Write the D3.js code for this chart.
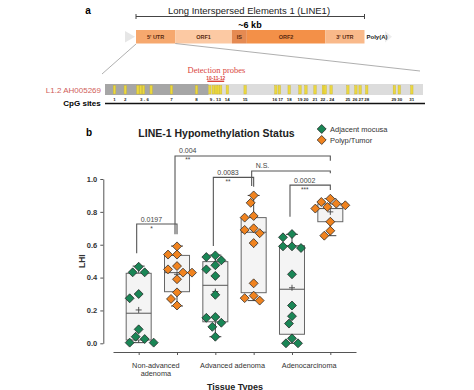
<!DOCTYPE html>
<html>
<head>
<meta charset="utf-8">
<script src="https://cdn.jsdelivr.net/npm/d3@7"></script>
<style>
  body { margin: 0; background: #fff; }
  svg { display: block; font-family: "Liberation Sans", Arial, sans-serif; }
</style>
</head>
<body>
<div id="chart"></div>
<script>
// ---- panel a data ----
var segNames = ["5' UTR", "ORF1", "IS", "ORF2", "3' UTR"];
var segKb = [1.03, 1.49, 0.39, 2.06, 1.03];
var segColors = ["#f6a86e", "#fcc9a3", "#e58a52", "#f39048", "#f9b98a"];

// CpG positions along the 5'UTR (bp)
var cpgPos = [27, 58, 94, 102, 110, 132, 190, 262, 300, 310, 318, 324, 331, 350, 401,
              489, 499, 527, 558, 575, 601, 625, 630, 647, 695, 718, 730, 749, 828, 842, 878];
var cpgLabels = [["1",0,0],["2",1,1],["3 - 6",2,5],["7",6,6],["8",7,7],["9 - 13",8,12],["14",13,13],
                 ["15",14,14],["16",15,15],["17",16,16],["18",17,17],["19",18,18],["20",19,19],
                 ["21",20,20],["22 - 24",21,23],["25",24,24],["26",25,25],["27",26,26],["28",27,27],
                 ["29",28,28],["30",29,29],["31",30,30]];
var probeSites = [9, 11];

// ---- panel b data ----
var tissueTypes = ["Non-advanced adenoma", "Advanced adenoma", "Adenocarcinoma"];
var sampleTypes = ["Adjacent mocusa", "Polyp/Tumor"];

var nonAdvAdjacent = [0.466, 0.432, 0.432, 0.30, 0.274, 0.085, 0.04, 0.026, 0.004, 0.004];
var nonAdvTumor = [0.59, 0.54, 0.54, 0.47, 0.45, 0.43, 0.43, 0.39, 0.31, 0.27, 0.23];
var advAdjacent = [0.535, 0.525, 0.505, 0.475, 0.45, 0.41, 0.295, 0.16, 0.155, 0.125, 0.10, 0.04];
var advTumor = [0.90, 0.855, 0.775, 0.765, 0.70, 0.69, 0.67, 0.61, 0.365, 0.29, 0.275, 0.26];
var carcAdjacent = [0.665, 0.645, 0.59, 0.58, 0.59, 0.42, 0.23, 0.165, 0.12, 0.03, 0.0, 0.0];
var carcTumor = [0.88, 0.86, 0.85, 0.84, 0.83, 0.82, 0.82, 0.81, 0.74, 0.685, 0.655];

var boxMin    = [0.004, 0.227, 0.04, 0.26, 0.0, 0.655];
var boxQ1     = [0.02, 0.314, 0.131, 0.308, 0.055, 0.74];
var boxMedian = [0.183, 0.43, 0.353, 0.676, 0.329, 0.82];
var boxQ3     = [0.426, 0.535, 0.497, 0.765, 0.594, 0.848];
var boxMax    = [0.47, 0.592, 0.537, 0.90, 0.663, 0.88];
var boxMean   = [0.203, 0.42, 0.315, 0.60, 0.338, 0.80];

var yTicks = [0, 0.2, 0.4, 0.6, 0.8, 1.0];

// pairwise comparisons
var compP     = ["0.0197", "0.004", "0.0083", "N.S.", "0.0002"];
var compStars = ["*", "**", "**", "", "***"];
var compFrom  = [0, 1, 2, 3, 4];
var compTo    = [1, 5, 3, 5, 5];
var compLevel = [0.726, 1.14, 1.01, 1.049, 0.963];
var compLeftEnd  = [0.548, 0.663, 0.592, 0.957, 0.77];
var compRightEnd = [0.663, 1.111, 0.953, 1.035, 0.933];

var colors = ["#1a8656", "#f0831f"];

var W = 474, H = 390;
var svg = d3.select("#chart").append("svg").attr("width", W).attr("height", H);

// ================= panel a =================
var pa = svg.append("g");
pa.append("text").attr("x", 88).attr("y", 14).attr("font-size", 10).attr("font-weight", "bold")
    .attr("text-anchor", "middle").text("a");

var kb = d3.scaleLinear().domain([0, d3.sum(segKb)]).range([136, 364.5]);

pa.append("text").attr("x", 249).attr("y", 13.5).attr("text-anchor", "middle")
    .attr("font-size", 9.5).attr("fill", "#222").text("Long Interspersed Elements 1 (LINE1)");
pa.append("line").attr("x1", kb(0)).attr("x2", kb.range()[1]).attr("y1", 16.5).attr("y2", 16.5)
    .attr("stroke", "#444").attr("stroke-width", 1);
[kb(0), kb.range()[1]].forEach(function(x) {
    pa.append("line").attr("x1", x).attr("x2", x).attr("y1", 14).attr("y2", 19)
        .attr("stroke", "#444");
});
pa.append("text").attr("x", 250).attr("y", 27.5).attr("text-anchor", "middle")
    .attr("font-size", 9).attr("font-weight", "bold").text("~6 kb");

// faded arrowheads
pa.append("path").attr("d", "M125,31 L135,36.7 L125,42.5 Z").attr("fill", "#e6e6e6");
pa.append("path").attr("d", "M385,31 L392,36.7 L385,42.5 Z").attr("fill", "#ececec");

var cum = 0;
segKb.forEach(function(v, i) {
    var x0 = kb(cum), x1 = kb(cum + v);
    pa.append("rect").attr("x", x0).attr("y", 30).attr("width", x1 - x0).attr("height", 13.5)
        .attr("fill", segColors[i]);
    pa.append("text").attr("x", (x0 + x1) / 2).attr("y", 39).attr("text-anchor", "middle")
        .attr("font-size", 5.5).attr("font-weight", "bold").attr("fill", "#5a2a10").text(segNames[i]);
    cum += v;
});
pa.append("text").attr("x", 366.5).attr("y", 39).attr("font-size", 6).attr("font-weight", "bold")
    .attr("fill", "#222").text("Poly(A)");

// zoom lines
pa.append("line").attr("x1", kb(0)).attr("y1", 44).attr("x2", 102).attr("y2", 74)
    .attr("stroke", "#9a9a9a").attr("stroke-width", 0.8);
pa.append("line").attr("x1", kb(segKb[0])).attr("y1", 43.5).attr("x2", 420).attr("y2", 71)
    .attr("stroke", "#9a9a9a").attr("stroke-width", 0.8);

// 5'UTR CpG map
var bp = d3.scaleLinear().domain([0, 910]).range([105, 423]);
pa.append("rect").attr("x", bp(0)).attr("y", 84).attr("width", bp(910) - bp(0)).attr("height", 11)
    .attr("fill", "#dcdcdc");
pa.append("rect").attr("x", bp(0)).attr("y", 84).attr("width", bp(296) - bp(0)).attr("height", 11)
    .attr("fill", "#a6a6a6");
pa.selectAll(".cpg").data(cpgPos).enter().append("rect")
    .attr("class", "cpg")
    .attr("x", function(d) { return bp(d) - 1.2; })
    .attr("y", 85.5).attr("width", 2.4).attr("height", 8.5)
    .attr("fill", "#ecd83e").attr("stroke", "#c9b52e").attr("stroke-width", 0.4);

pa.append("text").attr("x", 101).attr("y", 93).attr("text-anchor", "end")
    .attr("font-size", 8).attr("fill", "#d0605a").text("L1.2 AH005269");

var cpgText = pa.selectAll(".cpgl").data(cpgLabels).enter().append("text")
    .attr("class", "cpgl")
    .attr("x", function(d) { return (bp(cpgPos[d[1]]) + bp(cpgPos[d[2]])) / 2; })
    .attr("y", 101).attr("text-anchor", "middle")
    .attr("font-size", 4.4).attr("font-weight", "bold").attr("fill", "#222")
    .text(function(d) { return d[0]; });

// push apart labels that would touch
var lab = [];
cpgText.each(function(d) {
    lab.push({ el: this, x: +d3.select(this).attr("x"), w: this.getComputedTextLength() });
});
for (var pass = 0; pass < 4; pass++) {
    for (var i = 1; i < lab.length; i++) {
        var a = lab[i - 1], b = lab[i];
        var gap = (b.x - b.w / 2) - (a.x + a.w / 2);
        if (gap < 1) {
            var s = (1 - gap) / 2;
            a.x -= s; b.x += s;
        }
    }
}
lab.forEach(function(l) { d3.select(l.el).attr("x", l.x); });

pa.append("line").attr("x1", bp(0)).attr("x2", 425).attr("y1", 103.5).attr("y2", 103.5)
    .attr("stroke", "#111").attr("stroke-width", 1.6);
pa.append("text").attr("x", 82).attr("y", 106).attr("text-anchor", "middle")
    .attr("font-size", 8).attr("font-weight", "bold").text("CpG sites");

// probes
var pL = bp(cpgPos[probeSites[0]]), pR = bp(cpgPos[probeSites[1]]);
pa.append("text").attr("x", 216.5).attr("y", 72.5).attr("text-anchor", "middle")
    .attr("font-family", "Liberation Serif, Times New Roman, serif")
    .attr("font-size", 8.5).attr("fill", "#d9453c").text("Detection probes");
pa.append("text").attr("x", (pL + pR) / 2).attr("y", 79.5).attr("text-anchor", "middle")
    .attr("font-size", 4.8).attr("font-weight", "bold").attr("fill", "#d9453c").text("10-11-12");
pa.append("line").attr("x1", pL - 6).attr("x2", pR + 6).attr("y1", 81.3).attr("y2", 81.3)
    .attr("stroke", "#d9453c").attr("stroke-width", 1.4);

// ================= panel b =================
svg.append("text").attr("x", 89).attr("y", 136).attr("text-anchor", "middle")
    .attr("font-size", 10).attr("font-weight", "bold").text("b");
svg.append("text").attr("x", 216.5).attr("y", 137).attr("text-anchor", "middle")
    .attr("font-size", 10.5).attr("font-weight", "bold").attr("fill", "#222")
    .text("LINE-1 Hypomethylation Status");

var allSeries = [nonAdvAdjacent, nonAdvTumor, advAdjacent, advTumor, carcAdjacent, carcTumor];
var keys = d3.range(allSeries.length);

var x = d3.scalePoint().domain(keys).range([113, 356]).padding(0.67);
var y = d3.scaleLinear().domain([0, 1]).range([343.3, 179]);

// y axis
var yAxis = d3.axisLeft(y).tickValues(yTicks).tickFormat(d3.format(".1f")).tickSize(3).tickSizeOuter(0);
var gy = svg.append("g").attr("transform", "translate(103.3,0)").call(yAxis);
gy.select(".domain").attr("stroke", "#555");
gy.selectAll(".tick line").attr("stroke", "#555");
gy.selectAll(".tick text").attr("font-size", 7.5).attr("font-weight", "bold").attr("fill", "#333")
    .attr("font-family", "Liberation Sans, Arial, sans-serif");
svg.append("text").attr("transform", "translate(85," + y(0.5) + ") rotate(-90)")
    .attr("text-anchor", "middle").attr("font-size", 8.5).attr("font-weight", "bold").attr("fill", "#333")
    .text("LHI");

// x axis
var xAxis = d3.axisBottom(x).tickSize(3).tickSizeOuter(0).tickFormat("");
var gx = svg.append("g").attr("transform", "translate(0,352)").call(xAxis);
gx.select(".domain").attr("stroke", "#555");
gx.selectAll(".tick line").attr("stroke", "#555");

tissueTypes.forEach(function(t, i) {
    var cx = (x(2 * i) + x(2 * i + 1)) / 2 - 2;
    var lines = t == "Non-advanced adenoma" ? ["Non-advanced", "adenoma"] : [t];
    lines.forEach(function(l, j) {
        svg.append("text").attr("x", cx).attr("y", 368 + j * 8).attr("text-anchor", "middle")
            .attr("font-size", 7.3).attr("fill", "#333").text(l);
    });
});
svg.append("text").attr("x", 235).attr("y", 389.5).attr("text-anchor", "middle")
    .attr("font-size", 9).attr("font-weight", "bold").attr("fill", "#222").text("Tissue Types");

// boxes
var bw = 25, cap = 12;
var boxes = svg.append("g");
keys.forEach(function(k) {
    var cx = x(k);
    var g = boxes.append("g");
    g.append("line").attr("x1", cx).attr("x2", cx).attr("y1", y(boxQ3[k])).attr("y2", y(boxMax[k]))
        .attr("stroke", "#444");
    g.append("line").attr("x1", cx).attr("x2", cx).attr("y1", y(boxQ1[k])).attr("y2", y(boxMin[k]))
        .attr("stroke", "#444");
    g.append("line").attr("x1", cx - cap / 2).attr("x2", cx + cap / 2).attr("y1", y(boxMax[k])).attr("y2", y(boxMax[k]))
        .attr("stroke", "#444");
    g.append("line").attr("x1", cx - cap / 2).attr("x2", cx + cap / 2).attr("y1", y(boxMin[k])).attr("y2", y(boxMin[k]))
        .attr("stroke", "#444");
    g.append("rect").attr("x", cx - bw / 2).attr("y", y(boxQ3[k])).attr("width", bw)
        .attr("height", y(boxQ1[k]) - y(boxQ3[k]))
        .attr("fill", "#f4f4f4").attr("stroke", "#666").attr("stroke-width", 1);
    g.append("line").attr("x1", cx - bw / 2).attr("x2", cx + bw / 2).attr("y1", y(boxMedian[k])).attr("y2", y(boxMedian[k]))
        .attr("stroke", "#555").attr("stroke-width", 1);
    g.append("path").attr("d", "M" + (cx - 3) + "," + y(boxMean[k]) + "h6M" + cx + "," + (y(boxMean[k]) - 3) + "v6")
        .attr("stroke", "#444").attr("stroke-width", 0.9);
});

// points, simple swarm layout
var diamond = d3.symbol().type(d3.symbolSquare).size(40);
var pts = svg.append("g");
keys.forEach(function(k) {
    var vals = allSeries[k].slice().sort(function(a, b) { return b - a; });
    var placed = [];
    vals.forEach(function(v) {
        var py = y(v);
        var offs = [0, -3, 3, -6, 6, -9, 9, -12, 12, -15, 15];
        for (var i = 0; i < offs.length; i++) {
            var ok = placed.every(function(p) {
                return Math.hypot(p[0] - offs[i], p[1] - py) >= 7.5;
            });
            if (ok) { placed.push([offs[i], py]); break; }
        }
    });
    pts.selectAll(null).data(placed).enter().append("path")
        .attr("d", diamond)
        .attr("transform", function(d) { return "translate(" + (x(k) + d[0]) + "," + d[1] + ") rotate(45)"; })
        .attr("fill", colors[k % 2]).attr("stroke", "#222").attr("stroke-width", 0.7);
});

// comparison brackets
var br = svg.append("g");
compP.forEach(function(p, i) {
    var xl = x(compFrom[i]) - 2, xr = x(compTo[i]);
    var yl = y(compLevel[i]);
    br.append("path")
        .attr("d", "M" + xl + "," + y(compLeftEnd[i]) + "V" + yl + "H" + xr + "V" + y(compRightEnd[i]))
        .attr("fill", "none").attr("stroke", "#555").attr("stroke-width", 1.1);
    var t = br.append("text").attr("x", xl + 4).attr("y", yl - 2.5)
        .attr("font-size", 7).attr("fill", "#444").text(p);
    var tw = t.node().getComputedTextLength();
    if (compStars[i]) {
        br.append("text").attr("x", xl + 4 + tw / 2).attr("y", yl + 6.5).attr("text-anchor", "middle")
            .attr("font-size", 6.5).attr("fill", "#444").text(compStars[i]);
    }
});

// legend
sampleTypes.forEach(function(s, i) {
    var ly = 129 + i * 11;
    svg.append("path").attr("d", diamond)
        .attr("transform", "translate(321.7," + ly + ") rotate(45)")
        .attr("fill", colors[i]).attr("stroke", "#222").attr("stroke-width", 0.7);
    svg.append("text").attr("x", 330).attr("y", ly + 2.6).attr("font-size", 7.5).attr("fill", "#333").text(s);
});
</script>
</body>
</html>
